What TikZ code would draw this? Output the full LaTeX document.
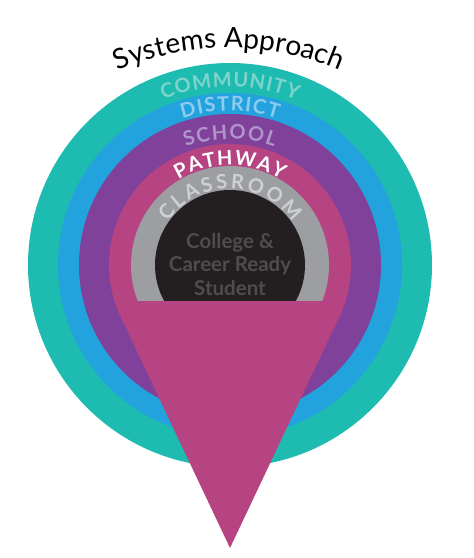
\documentclass[tikz,border=0pt]{standalone}
\usepackage{fontspec}
\setmainfont{Lato}
\usetikzlibrary{calc,decorations.text}
\definecolor{tealc}{HTML}{1EBBB0}
\definecolor{bluec}{HTML}{22A3DD}
\definecolor{purplec}{HTML}{7F4199}
\definecolor{pinkc}{HTML}{B64482}
\definecolor{grayc}{HTML}{9C9EA1}
\definecolor{blackc}{HTML}{231F20}
\definecolor{commtxt}{HTML}{7ED3CB}
\definecolor{disttxt}{HTML}{8ECBEF}
\definecolor{schtxt}{HTML}{B194CB}
\definecolor{clstxt}{HTML}{CFD0D2}
\definecolor{stutxt}{HTML}{4E4C4D}
\begin{document}
\begin{tikzpicture}[x=1pt,y=1pt]
\useasboundingbox (0,0) rectangle (474,558);
\coordinate (C) at (230,293);
\coordinate (tip) at (230,10);
% rings
\fill[tealc] (C) circle[radius=202];
\fill[bluec] (C) circle[radius=172];
\fill[purplec] (C) circle[radius=151];
% pin
\fill[pinkc] (tip) -- ($(C)+(205.3:121)$) arc[start angle=205.3,end angle=-25.3,radius=121] -- cycle;
\begin{scope}
  \clip (0,257) rectangle (474,558);
  \fill[grayc] (C) circle[radius=99];
  \fill[blackc] (C) circle[radius=75];
\end{scope}
% ring texts
\path[decorate,decoration={text along path,text align=fit to path,
  text={|\fontsize{20}{20}\selectfont\bfseries\color{commtxt}|COMMUNITY}}]
  ($(C)+(112:178)$) arc[start angle=112,end angle=68,radius=178];
\path[decorate,decoration={text along path,text align=fit to path,
  text={|\fontsize{20}{20}\selectfont\bfseries\color{disttxt}|DISTRICT}}]
  ($(C)+(108:154)$) arc[start angle=108,end angle=72,radius=154];
\path[decorate,decoration={text along path,text align=fit to path,
  text={|\fontsize{20}{20}\selectfont\bfseries\color{schtxt}|SCHOOL}}]
  ($(C)+(110.5:126)$) arc[start angle=110.5,end angle=69.5,radius=126];
\path[decorate,decoration={text along path,text align=fit to path,
  text={|\fontsize{20}{20}\selectfont\bfseries\color{white}|PATHWAY}}]
  ($(C)+(121:100)$) arc[start angle=121,end angle=59,radius=100];
\path[decorate,decoration={text along path,text align=fit to path,
  text={|\fontsize{20}{20}\selectfont\bfseries\color{clstxt}|CLASSROOM}}]
  ($(C)+(145:76)$) arc[start angle=145,end angle=35,radius=76];
% title
\coordinate (T) at (229,227);
\path[decorate,decoration={text along path,text align=center,
  text={|\fontsize{28}{28}\selectfont\color{black}|Systems Approach}}]
  ($(T)+(130:283)$) arc[start angle=130,end angle=50,radius=283];
% centre text
\node[align=center,text=stutxt,font=\fontsize{20.5}{23.5}\selectfont\bfseries] (student) at (230,294)
  {College \&\\Career Ready\\Student};
\end{tikzpicture}
\end{document}
